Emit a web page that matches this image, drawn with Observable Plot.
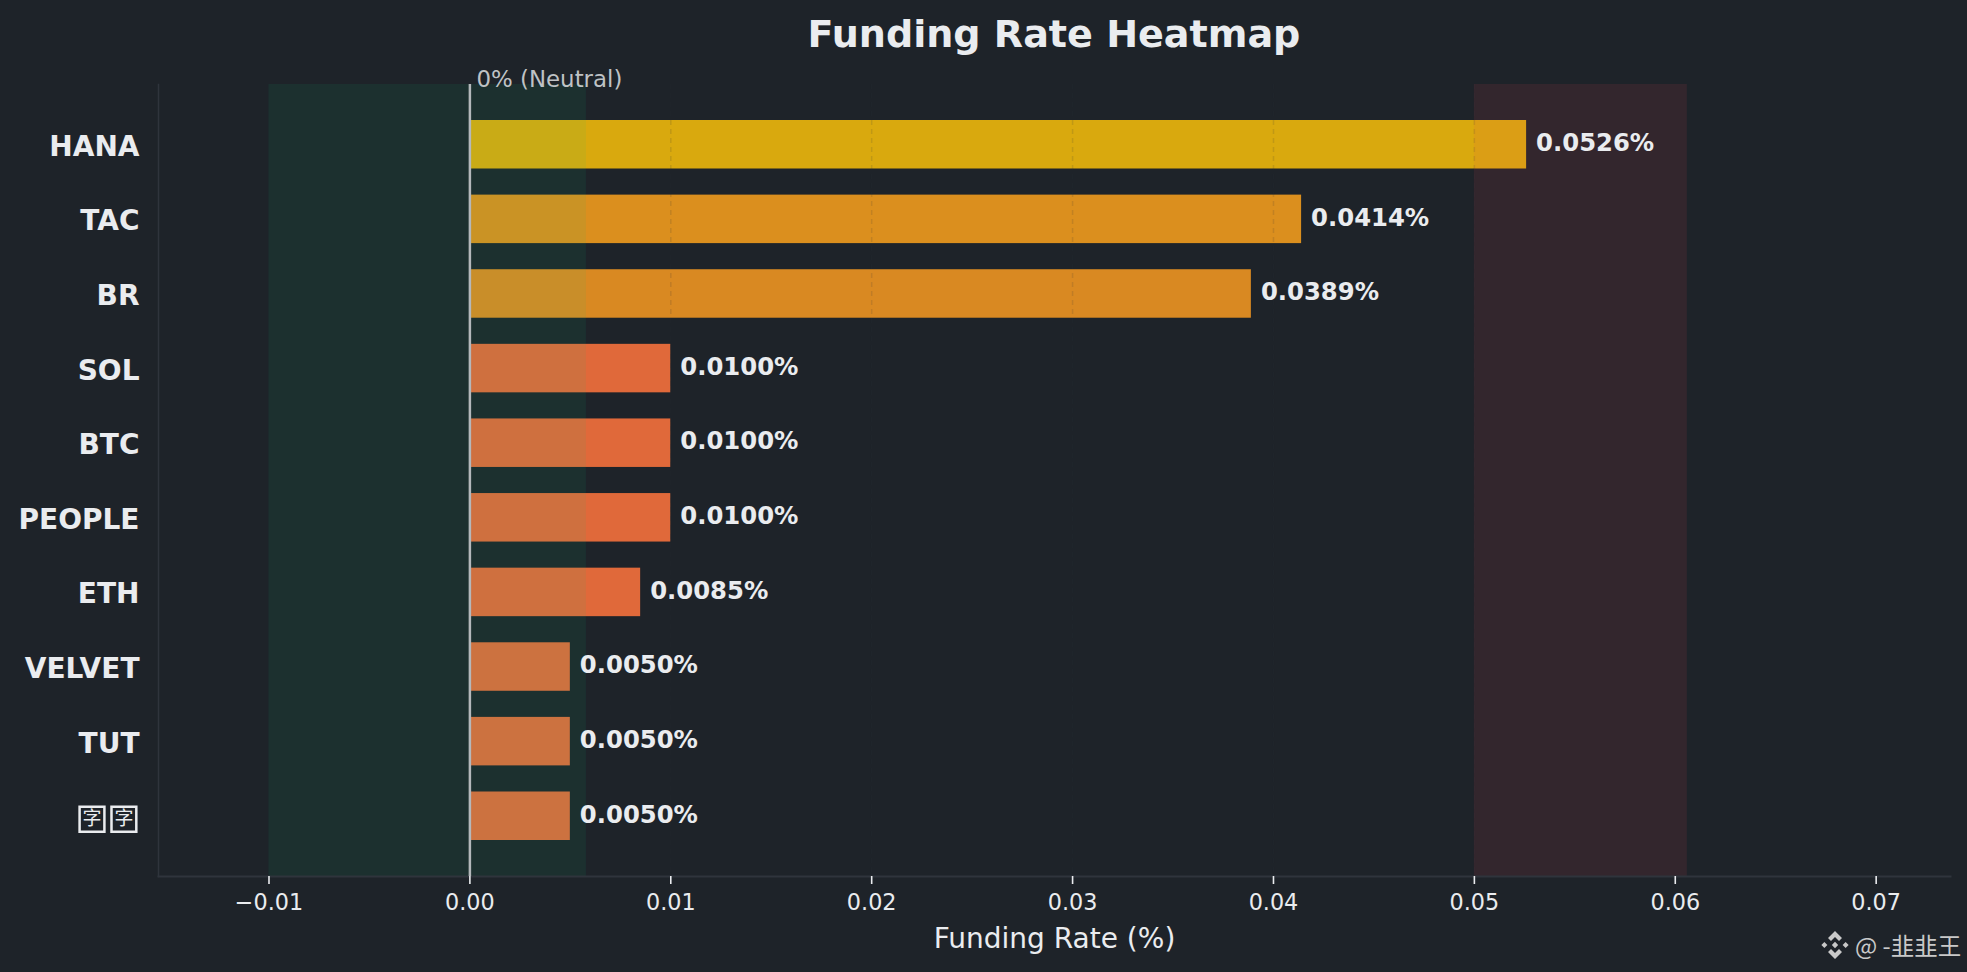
<!DOCTYPE html>
<html>
<head>
<meta charset="utf-8">
<script src="https://cdn.jsdelivr.net/npm/d3@7"></script>
<script src="https://cdn.jsdelivr.net/npm/@observablehq/plot@0.6"></script>
<style>
html,body{margin:0;padding:0;background:#1e2329;overflow:hidden}
body{width:1967px;height:972px;position:relative;font-family:"DejaVu Sans",sans-serif}
#title{height:60px;margin-left:158px;width:1792px;text-align:center;color:#eaecef;font-weight:700;font-size:38.1px;line-height:68px}
#chart svg{display:block}
#mark{position:absolute;left:1821px;top:929px;height:32px;display:flex;align-items:center;color:#c9c9c9;white-space:nowrap}
#mark svg{margin-right:6px}
#mark span{font-family:"Noto Sans CJK SC",sans-serif;font-size:23.5px;line-height:32px}
</style>
</head>
<body>
<div id="title">Funding Rate Heatmap</div>
<div id="chart"></div>
<div id="mark"><svg width="28" height="28" viewBox="0 0 28 28" fill="#c9c9c9"><path d="M14 0l7 7-3 3-4-4-4 4-3-3z"/><path d="M14 28l7-7-3-3-4 4-4-4-3 3z"/><path d="M14 10.8l3.2 3.2-3.2 3.2-3.2-3.2z"/><path d="M3.4 11l3 3-3 3-3-3z"/><path d="M24.6 11l3 3-3 3-3-3z"/></svg><span>@ -韭韭王</span></div>
<script>
const names = ["HANA","TAC","BR","SOL","BTC","PEOPLE","ETH","VELVET","TUT","字字"];
const rates = [0.0526,0.0414,0.0389,0.0100,0.0100,0.0100,0.0085,0.0050,0.0050,0.0050];
const rateLabels = ["0.0526%","0.0414%","0.0389%","0.0100%","0.0100%","0.0100%","0.0085%","0.0050%","0.0050%","0.0050%"];
const xTicks = [-0.01,0,0.01,0.02,0.03,0.04,0.05,0.06,0.07];
const greenZone = [-0.01,0.0058];
const redZone = [0.05,0.0606];

const rows = names.map((name,i)=>({name,rate:rates[i],label:rateLabels[i]}));
const lastName = names[names.length-1];
const ink = "#eaecef";
const spine = "#2f343c";

const chart = Plot.plot({
  width:1967, height:912,
  marginLeft:158, marginRight:17, marginTop:24, marginBottom:96,
  style:{background:"#1e2329",color:ink,fontFamily:"DejaVu Sans"},
  x:{domain:[-0.0155,0.0737]},
  y:{domain:names,paddingInner:0.35,paddingOuter:0.4825,round:false},
  color:{type:"ordinal",domain:names,range:["#d9a90e","#db8f1e","#d98922","#e0693a","#e0693a","#e0693a","#e0693a","#dd6b3b","#dd6b3b","#dd6b3b"]},
  marks:[
    Plot.barX(rows,{x:"rate",y:"name",fill:"name"}),
    Plot.ruleX(xTicks.filter(d=>d>0&&d<0.06),{stroke:"#2b3139",strokeOpacity:0.14,strokeDasharray:"5,4",strokeWidth:1.5}),
    Plot.rect([greenZone],{x1:d=>d[0],x2:d=>d[1],fill:"#0ecb81",fillOpacity:0.08}),
    Plot.rect([redZone],{x1:d=>d[0],x2:d=>d[1],fill:"#f6465d",fillOpacity:0.1}),
    Plot.frame({anchor:"left",stroke:spine,strokeWidth:1.5}),
    Plot.frame({anchor:"bottom",stroke:spine,strokeWidth:2}),
    Plot.ruleX([0],{stroke:"#b4b8bb",strokeWidth:2.5}),
    Plot.text(["0% (Neutral)"],{x:0,frameAnchor:"top",text:d=>d,textAnchor:"start",lineAnchor:"bottom",dx:6.5,dy:2,fontSize:22.9,fill:"#bfc2c5"}),
    Plot.axisX({ticks:xTicks,tickFormat:d=>d.toFixed(2).replace("-","\u2212"),tickSize:8,tickPadding:10,fontSize:22.3,stroke:ink,strokeWidth:1.6,label:null}),
    Plot.text(["Funding Rate (%)"],{frameAnchor:"bottom",text:d=>d,lineAnchor:"middle",dy:62.5,fontSize:28,fill:ink}),
    Plot.axisY({tickSize:0,tickPadding:19,dy:2,fontSize:28,fontWeight:"bold",label:null,tickFormat:d=>d===lastName?"":d}),
    Plot.dot([lastName],{y:d=>d,frameAnchor:"left",symbol:"square",r:14,dx:-66.5,dy:3,stroke:ink,strokeWidth:2.5,fill:"none"}),
    Plot.dot([lastName],{y:d=>d,frameAnchor:"left",symbol:"square",r:14,dx:-34.6,dy:3,stroke:ink,strokeWidth:2.5,fill:"none"}),
    Plot.text([lastName],{y:d=>d,frameAnchor:"left",text:d=>d[0],textAnchor:"middle",dx:-66.5,dy:3,fontSize:19,fill:ink,fontFamily:"Noto Sans CJK SC"}),
    Plot.text([lastName],{y:d=>d,frameAnchor:"left",text:d=>d[1],textAnchor:"middle",dx:-34.6,dy:3,fontSize:19,fill:ink,fontFamily:"Noto Sans CJK SC"}),
    Plot.text(rows,{x:"rate",y:"name",text:"label",textAnchor:"start",dx:9.5,dy:-1.5,fontSize:24.3,fontWeight:"bold",fill:ink})
  ]
});
document.getElementById("chart").appendChild(chart);
</script>
</body>
</html>
